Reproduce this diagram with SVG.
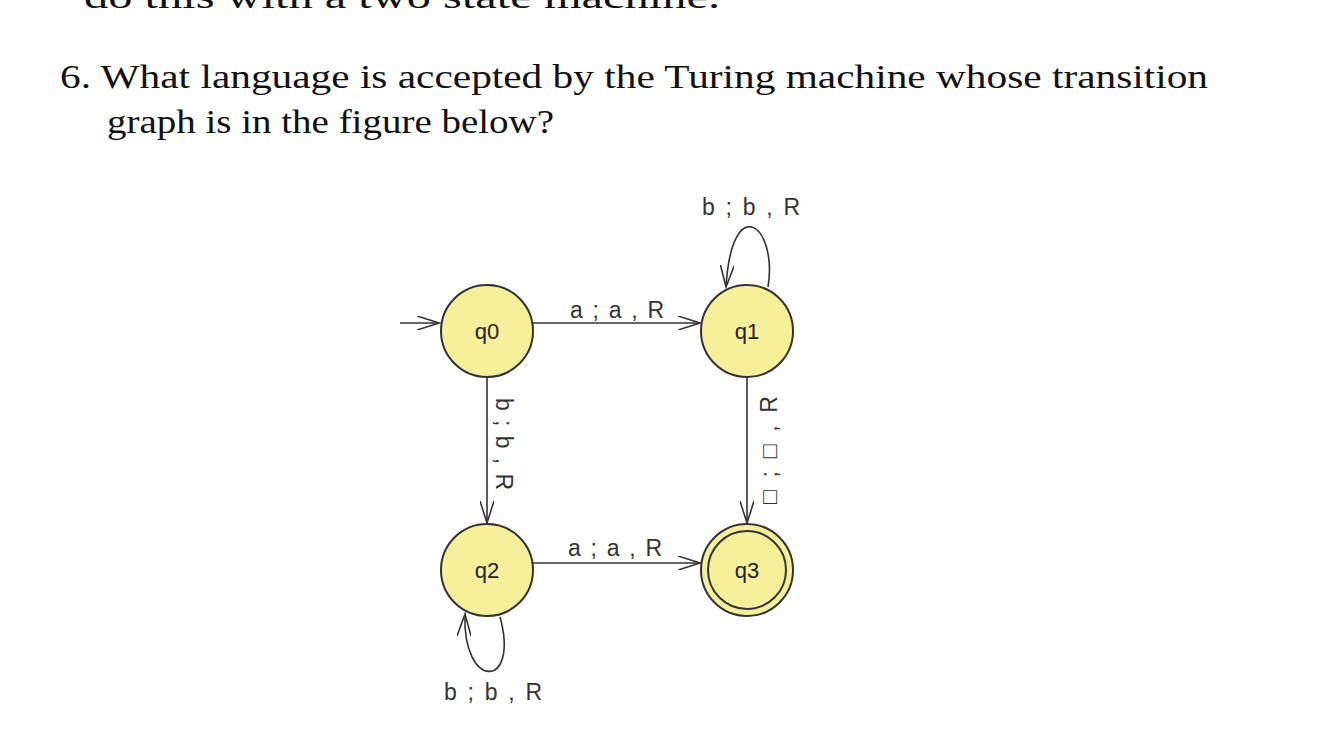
<svg xmlns="http://www.w3.org/2000/svg" width="1322" height="730" viewBox="0 0 1322 730">
<style>
.q{font-family:"Liberation Serif",serif;font-size:34px;fill:#111}
.st circle{fill:#f7f09b;stroke:#333;stroke-width:2}
.st text{font-family:"Liberation Sans",Arial,sans-serif;font-size:22px;fill:#222;text-anchor:middle}
.lb{font-family:"Liberation Sans",Arial,sans-serif;font-size:23px;fill:#333}
.e{fill:none;stroke:#333;stroke-width:1.6}
</style>
<defs><marker id="a" markerWidth="24" markerHeight="14" refX="22" refY="7" orient="auto" markerUnits="userSpaceOnUse"><path d="M0,0 L22,7 L0,14" fill="none" stroke="#333" stroke-width="1.6"/></marker></defs>
<rect width="1322" height="730" fill="#fff"/>
<text class="q" x="84" y="8" textLength="636" lengthAdjust="spacingAndGlyphs">do this with a two state machine.</text>
<text class="q" x="60" y="88" textLength="1148" lengthAdjust="spacingAndGlyphs">6.  What language is accepted by the Turing machine whose transition</text>
<text class="q" x="107" y="133" textLength="447" lengthAdjust="spacingAndGlyphs">graph is in the figure below?</text>
<g id="connectors">
<path class="e" d="M400,323 L439,323" marker-end="url(#a)"/>
<path class="e" d="M533,323 L700,323" marker-end="url(#a)"/>
<path class="e" d="M487,377 L487,523" marker-end="url(#a)"/>
<path class="e" d="M747,377 L747,523" marker-end="url(#a)"/>
<path class="e" d="M533,563 L700,563" marker-end="url(#a)"/>
<path class="e" d="M768,287 C778,225 732,190 726,287" marker-end="url(#a)"/>
<path class="e" d="M500,617 C520,690 462,690 465,614" marker-end="url(#a)"/>
<text class="lb" x="570" y="318" textLength="94">a ; a , R</text>
<text class="lb" x="568" y="556" textLength="94">a ; a , R</text>
<text class="lb" x="702" y="215" textLength="98">b ; b , R</text>
<text class="lb" x="444" y="700" textLength="98">b ; b , R</text>
<text class="lb" transform="translate(496,398) rotate(90)" textLength="92">b ; b , R</text>
<text class="lb" transform="translate(777,504) rotate(-90)" textLength="108">□ ; □ , R</text>
</g>
<g id="q0" class="st"><circle cx="487" cy="331" r="46"/><text x="487" y="339">q0</text></g>
<g id="q1" class="st"><circle cx="747" cy="331" r="46"/><text x="747" y="339">q1</text></g>
<g id="q2" class="st"><circle cx="487" cy="570" r="46"/><text x="487" y="578">q2</text></g>
<g id="q3" class="st"><circle cx="747" cy="570" r="46"/><circle cx="747" cy="570" r="39"/><text x="747" y="578">q3</text></g>
</svg>
